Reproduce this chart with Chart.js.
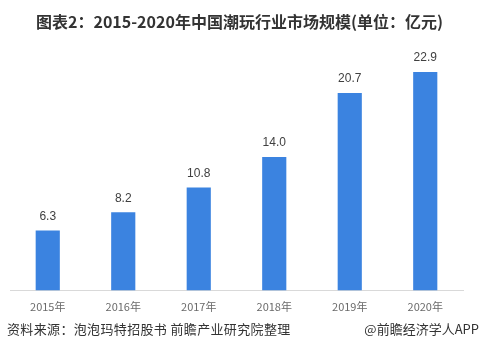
<!DOCTYPE html>
<html><head><meta charset="utf-8">
<script src="https://cdn.jsdelivr.net/npm/chart.js@4.4.0/dist/chart.umd.min.js"></script>
<style>
html,body{margin:0;padding:0;background:#fff;}
#wrap{position:relative;width:479px;height:358px;overflow:hidden;font-family:"Noto Sans CJK SC","Noto Sans",sans-serif;}
#title{position:absolute;left:0;top:10px;width:479px;text-align:center;font-size:16px;font-weight:bold;color:#333;line-height:22px;}
#src{position:absolute;left:7px;top:320px;font-size:13px;color:#333;line-height:18px;letter-spacing:0.35px;}
#app{position:absolute;right:0;top:320px;font-size:13px;color:#333;line-height:18px;white-space:nowrap;}
canvas{position:absolute;left:0;top:0;}
</style></head>
<body><div id="wrap">
<canvas id="c" width="479" height="358"></canvas>
<div id="title">图表2：2015-2020年中国潮玩行业市场规模(单位：亿元)</div>
<div id="src">资料来源：泡泡玛特招股书 前瞻产业研究院整理</div>
<div id="app">@前瞻经济学人APP</div>
</div>
<script>
const categories = ["2015年","2016年","2017年","2018年","2019年","2020年"];
const marketSize = [6.3, 8.2, 10.8, 14.0, 20.7, 22.9];
const valueLabels = ["6.3","8.2","10.8","14.0","20.7","22.9"];

const labelPlugin = {
  id: 'valLabels',
  afterDatasetsDraw(chart) {
    const ctx = chart.ctx;
    const meta = chart.getDatasetMeta(0);
    ctx.save();
    ctx.font = '12px "Liberation Sans", Arial, sans-serif';
    ctx.fillStyle = '#404040';
    ctx.textAlign = 'center';
    ctx.textBaseline = 'middle';
    meta.data.forEach((bar, i) => {
      ctx.fillText(valueLabels[i], bar.x, bar.y - 14);
    });
    ctx.restore();
  }
};

new Chart(document.getElementById('c'), {
  type: 'bar',
  data: {
    labels: categories,
    datasets: [{
      data: marketSize,
      backgroundColor: '#3b83e0',
      barPercentage: 0.64,
      categoryPercentage: 0.5
    }]
  },
  options: {
    responsive: false,
    animation: false,
    layout: { padding: { left: 10, right: 16, top: 52, bottom: 0 } },
    plugins: { legend: { display: false }, tooltip: { enabled: false } },
    scales: {
      x: {
        grid: { display: false },
        border: { display: true, color: '#d9d9d9', width: 1 },
        ticks: { color: '#6a6a6a', font: { size: 11, family: '"Noto Sans CJK SC", sans-serif' }, padding: 2 },
        afterFit(scale) { scale.height = 67.5; }
      },
      y: {
        display: false,
        min: 0,
        max: 25
      }
    }
  },
  plugins: [labelPlugin]
});
</script>
</body></html>
